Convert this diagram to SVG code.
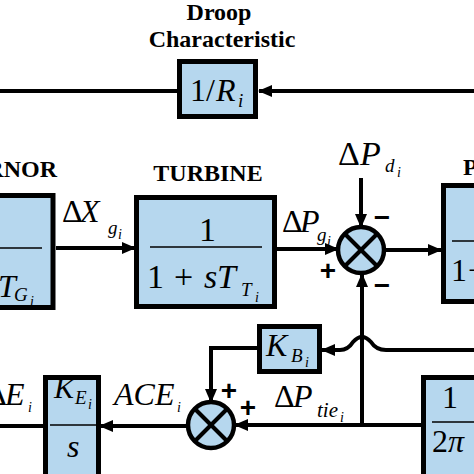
<svg xmlns="http://www.w3.org/2000/svg" width="474" height="474" viewBox="0 0 474 474">
<defs>
<marker id="ah" markerWidth="14" markerHeight="12" refX="13" refY="6" orient="auto" markerUnits="userSpaceOnUse" viewBox="0 0 14 12">
<path d="M0,0 L14,6 L0,12 z" fill="#000"/>
</marker>
<style>
.blk{fill:#b6d7ee;stroke:#000;stroke-width:5}
.ln{fill:none;stroke:#000;stroke-width:4}
.arr{fill:none;stroke:#000;stroke-width:4;marker-end:url(#ah)}
.frac{stroke:#000;stroke-width:1.5}
.m{font-family:"Liberation Serif",serif;font-size:32px;fill:#000}
.mi{font-family:"Liberation Serif",serif;font-size:32px;font-style:italic;fill:#000}
.sb{font-family:"Liberation Serif",serif;font-size:19px;font-style:italic;fill:#000}
.ss{font-family:"Liberation Serif",serif;font-size:14px;font-style:italic;fill:#000}
.ttl{font-family:"Liberation Serif",serif;font-size:24px;font-weight:bold;fill:#000}
.sg{font-family:"Liberation Sans",sans-serif;font-size:28px;font-weight:bold;fill:#000}
</style>
</defs>
<rect width="474" height="474" fill="#fff"/>

<g id="connectors">
<line class="ln" x1="0" y1="91" x2="177" y2="91"/>
<line class="arr" x1="474" y1="91" x2="259" y2="91"/>
<line class="arr" x1="56" y1="248" x2="135" y2="248"/>
<line class="arr" x1="277" y1="249" x2="338" y2="249"/>
<line class="arr" x1="361" y1="178" x2="361" y2="227"/>
<line class="arr" x1="385" y1="250" x2="441" y2="250"/>
<line class="arr" x1="362" y1="426" x2="362" y2="274"/>
<path class="arr" d="M474,350 L386,350 Q376,350 371,342 Q362,332 353,342 Q348,350 340,350 L322,350"/>
<path class="arr" d="M257,348 L211,348 L211,402"/>
<line class="arr" x1="421" y1="425" x2="235" y2="425"/>
<line class="arr" x1="188" y1="426" x2="100" y2="426"/>
<line class="ln" x1="43" y1="426" x2="0" y2="426"/>
</g>

<g id="droop">
<text class="ttl" x="219" y="20" text-anchor="middle">Droop</text>
<text class="ttl" x="222" y="47" text-anchor="middle">Characteristic</text>
<rect class="blk" x="179.5" y="61.5" width="76" height="55"/>
<text class="m" x="190" y="101">1/</text><text class="mi" x="216" y="101">R</text><text class="sb" x="238" y="107">i</text>
</g>

<g id="governor">
<text class="ttl" x="57" y="177" text-anchor="end">GOVERNOR</text>
<rect class="blk" x="-5" y="195.5" width="58" height="112"/>
<line class="frac" x1="0" y1="248" x2="42" y2="248"/>
<text class="mi" x="-2" y="297">T</text><text class="sb" x="14" y="301">G</text><text class="ss" x="30" y="306">i</text>
</g>

<g id="turbine">
<text class="ttl" x="208" y="181" text-anchor="middle">TURBINE</text>
<rect class="blk" x="136.5" y="197.5" width="138" height="109"/>
<line class="frac" x1="150" y1="247" x2="262" y2="247"/>
<text class="m" x="199" y="241" style="font-size:34px">1</text>
<text class="m" x="147" y="288" style="font-size:34px">1</text><text class="m" x="174" y="288" style="font-size:34px">+</text><text class="mi" x="204" y="288" style="font-size:34px">s</text><text class="mi" x="217" y="288" style="font-size:34px">T</text><text class="sb" x="241" y="296">T</text><text class="ss" x="255" y="302">i</text>
</g>

<g id="sum1">
<circle cx="361" cy="250" r="23" fill="#b6d7ee" stroke="#000" stroke-width="4.5"/>
<line class="ln" x1="345" y1="234" x2="377" y2="266"/>
<line class="ln" x1="377" y1="234" x2="345" y2="266"/>
<text class="sg" x="382" y="227" text-anchor="middle">−</text>
<text class="sg" x="328" y="280" text-anchor="middle">+</text>
<text class="sg" x="382" y="295" text-anchor="middle">−</text>
</g>

<g id="system">
<text class="ttl" x="463" y="175">POWER SYSTEM</text>
<rect class="blk" x="443.5" y="185.5" width="40" height="116"/>
<line class="frac" x1="452" y1="241" x2="474" y2="241"/>
<text class="m" x="451" y="281">1</text><text class="m" x="468" y="281">+</text>
</g>

<g id="kb">
<rect class="blk" x="259.5" y="326.5" width="60" height="45"/>
<text class="mi" x="266" y="356">K</text><text class="sb" x="291" y="362">B</text><text class="ss" x="305" y="367">i</text>
</g>

<g id="sum2">
<circle cx="211" cy="425" r="23" fill="#b6d7ee" stroke="#000" stroke-width="4.5"/>
<line class="ln" x1="195" y1="409" x2="227" y2="441"/>
<line class="ln" x1="227" y1="409" x2="195" y2="441"/>
<text class="sg" x="229" y="400" text-anchor="middle">+</text>
<text class="sg" x="248" y="417" text-anchor="middle">+</text>
</g>

<g id="ke">
<rect class="blk" x="45.5" y="377.5" width="53" height="100"/>
<line class="frac" x1="50" y1="425" x2="96" y2="425"/>
<text class="mi" x="54" y="398" style="font-size:30px">K</text><text class="sb" x="75" y="404">E</text><text class="ss" x="88" y="409">i</text>
<text class="mi" x="67" y="457">s</text>
</g>

<g id="freq">
<rect class="blk" x="423.5" y="377.5" width="60" height="100"/>
<line class="frac" x1="432" y1="422" x2="474" y2="422"/>
<text class="m" x="442" y="408">1</text>
<text class="m" x="432" y="452">2</text><text class="mi" x="448" y="452">π</text>
</g>

<g id="labels">
<text class="m" x="62" y="222">Δ</text><text class="mi" x="80" y="222">X</text><text class="sb" x="108" y="234">g</text><text class="ss" x="118" y="239">i</text>
<text class="m" x="282" y="232">Δ</text><text class="mi" x="300" y="232">P</text><text class="sb" x="317" y="241">g</text><text class="ss" x="327" y="246">i</text>
<text class="m" x="338" y="165" style="font-size:34px">Δ</text><text class="mi" x="360" y="165" style="font-size:34px">P</text><text class="sb" x="385" y="172">d</text><text class="ss" x="397" y="177">i</text>
<text class="mi" x="114" y="405">ACE</text><text class="ss" x="177" y="412">i</text>
<text class="m" x="274" y="407">Δ</text><text class="mi" x="293" y="407">P</text><text class="sb" x="317" y="417" style="font-size:21px">tie</text><text class="ss" x="340" y="422">i</text>
<text class="m" x="-14" y="405">Δ</text><text class="mi" x="5" y="405">E</text><text class="ss" x="28" y="412">i</text>
</g>
</svg>
